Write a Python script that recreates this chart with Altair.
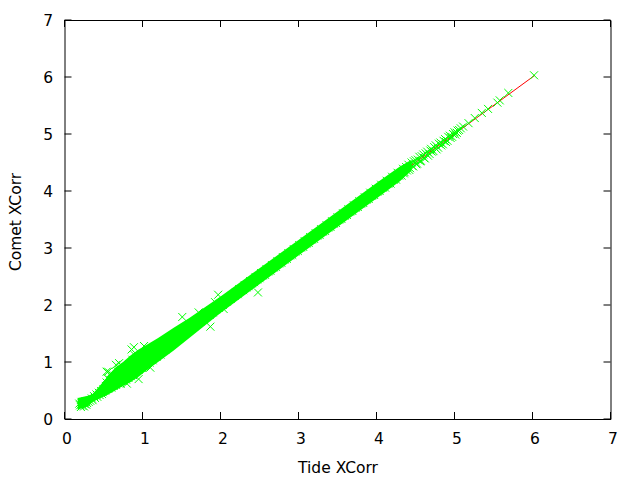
import altair as alt
import pandas as pd

# ---- data ----
tide_x = [
    0.20, 0.21, 0.22, 0.23, 0.24, 0.25, 0.26, 0.27, 0.28, 0.22, 0.19, 0.29, 0.31, 0.33,
    0.35, 0.36, 0.38, 0.39, 0.41, 0.42, 0.44, 0.45, 0.47, 0.48, 0.50, 0.49,
    0.52, 0.53, 0.54, 0.55, 0.56, 0.57, 0.58, 0.59, 0.60, 0.61, 0.62, 0.63, 0.64, 0.65,
    0.66, 0.67, 0.68, 0.69, 0.70, 0.71, 0.72, 0.73, 0.74, 0.75, 0.76, 0.77, 0.78, 0.79,
    0.80, 0.81, 0.82, 0.83, 0.84, 0.85, 0.86, 0.87, 0.88, 0.89, 0.90, 0.91, 0.92, 0.93,
    0.94, 0.95, 0.96, 0.97, 0.98, 0.99, 1.00, 0.56, 0.88,
    0.54, 0.66, 0.70, 0.86, 0.89, 1.02, 0.95, 0.80, 1.10,
    1.01, 1.02, 1.03, 1.04, 1.05, 1.06, 1.07, 1.08, 1.09, 1.10, 1.11, 1.12, 1.13, 1.14,
    1.15, 1.16, 1.18, 1.19, 1.20, 1.22, 1.23, 1.25, 1.26, 1.28, 1.29, 1.31, 1.32, 1.34,
    1.35, 1.37, 1.38, 1.40, 1.41, 1.43, 1.44, 1.46, 1.47, 1.49, 1.50,
    1.52, 1.54, 1.56, 1.58, 1.60, 1.62, 1.64, 1.66, 1.68, 1.70, 1.72, 1.74, 1.76, 1.78,
    1.80, 1.82, 1.84, 1.86, 1.88, 1.90, 1.92, 1.94, 1.96, 1.98, 2.00, 2.03, 2.05, 2.08,
    2.10, 2.13, 2.15, 2.18, 2.20,
    1.51, 1.97, 1.87, 2.48, 1.72, 1.93, 2.04,
    2.22, 2.24, 2.26, 2.29, 2.31, 2.33, 2.36, 2.38, 2.40, 2.43, 2.45, 2.47, 2.50, 2.52,
    2.54, 2.57, 2.59, 2.61, 2.64, 2.66, 2.68, 2.71, 2.73, 2.75, 2.78, 2.80, 2.82, 2.85,
    2.87, 2.89, 2.92, 2.94, 2.96, 2.99, 3.01, 3.03, 3.06, 3.08, 3.10, 3.13, 3.15, 3.17,
    3.20, 3.22, 3.24, 3.27, 3.29, 3.31, 3.34, 3.36, 3.38, 3.41, 3.43, 3.45, 3.48, 3.50,
    3.52, 3.55, 3.57, 3.59, 3.62, 3.64, 3.66, 3.69, 3.71, 3.73, 3.76, 3.78, 3.80, 3.83,
    3.85, 3.87, 3.90, 3.92, 3.94, 3.97, 3.99, 4.01, 4.04, 4.06, 4.08, 4.11, 4.13, 4.15,
    4.18, 4.20, 4.22, 4.25, 4.27, 4.29, 4.32,
    4.34, 4.36, 4.39, 4.41, 4.43, 4.46, 4.48, 4.51, 4.53, 4.56, 4.58, 4.61, 4.63, 4.66,
    4.69, 4.71, 4.74, 4.77, 4.80, 4.83, 4.86, 4.89, 4.92, 4.95, 4.98, 5.01, 5.04,
    4.35, 4.38, 4.42, 4.45, 4.47, 4.50, 4.52, 4.55, 4.57, 4.60, 4.62, 4.65, 4.68, 4.70,
    4.73, 4.76, 4.79, 4.82, 4.85, 4.88, 4.91, 4.94, 4.97, 5.00, 5.03, 5.06,
    5.08, 5.11, 5.18, 5.26, 5.35, 5.43, 5.55, 5.58, 5.69, 6.02,
]
comet_y = [
    0.24, 0.21, 0.27, 0.23, 0.29, 0.22, 0.26, 0.31, 0.25, 0.30, 0.27, 0.28, 0.30, 0.32,
    0.36, 0.33, 0.40, 0.37, 0.43, 0.39, 0.46, 0.42, 0.49, 0.44, 0.52, 0.47,
    0.50, 0.58, 0.64, 0.72, 0.53, 0.61, 0.68, 0.80, 0.55, 0.63, 0.71, 0.58, 0.76, 0.66,
    0.60, 0.72, 0.84, 0.63, 0.69, 0.78, 0.62, 0.74, 0.86, 0.67, 0.80, 0.71, 0.90, 0.69,
    0.77, 0.85, 0.72, 0.96, 0.81, 0.75, 0.89, 1.04, 0.80, 0.93, 1.12, 0.84, 0.98, 0.88,
    1.06, 0.86, 0.99, 0.92, 1.08, 0.90, 1.02, 0.83, 0.77,
    0.83, 0.95, 0.98, 1.22, 1.26, 1.28, 0.70, 0.62, 0.90,
    0.93, 1.14, 1.00, 1.08, 0.97, 1.19, 1.04, 1.12, 0.99, 1.20, 1.07, 1.16, 1.03, 1.24,
    1.11, 1.20, 1.09, 1.27, 1.15, 1.26, 1.13, 1.30, 1.21, 1.34, 1.22, 1.37, 1.27, 1.40,
    1.30, 1.43, 1.32, 1.46, 1.36, 1.48, 1.40, 1.51, 1.42, 1.54, 1.46,
    1.55, 1.51, 1.60, 1.55, 1.63, 1.59, 1.67, 1.63, 1.71, 1.67, 1.74, 1.71, 1.78, 1.75,
    1.82, 1.79, 1.86, 1.83, 1.90, 1.87, 1.94, 1.92, 1.98, 1.95, 2.02, 2.00, 2.07, 2.06,
    2.12, 2.11, 2.17, 2.16, 2.22,
    1.79, 2.18, 1.62, 2.22, 1.87, 2.05, 1.93,
    2.19, 2.28, 2.25, 2.26, 2.35, 2.31, 2.33, 2.42, 2.38, 2.40, 2.49, 2.45, 2.47, 2.56,
    2.52, 2.53, 2.63, 2.59, 2.60, 2.70, 2.66, 2.67, 2.77, 2.73, 2.74, 2.84, 2.80, 2.81,
    2.91, 2.87, 2.88, 2.98, 2.94, 2.95, 3.05, 3.01, 3.02, 3.12, 3.08, 3.09, 3.19, 3.15,
    3.16, 3.26, 3.22, 3.23, 3.33, 3.29, 3.30, 3.40, 3.36, 3.37, 3.47, 3.43, 3.44, 3.54,
    3.50, 3.51, 3.61, 3.57, 3.58, 3.68, 3.64, 3.65, 3.75, 3.71, 3.72, 3.82, 3.78, 3.79,
    3.89, 3.85, 3.86, 3.97, 3.92, 3.93, 4.04, 3.99, 4.00, 4.11, 4.06, 4.06, 4.18, 4.13,
    4.13, 4.25, 4.20, 4.20, 4.32, 4.27, 4.27,
    4.39, 4.33, 4.36, 4.46, 4.40, 4.44, 4.52, 4.47, 4.55, 4.52, 4.61, 4.58, 4.66, 4.62,
    4.71, 4.69, 4.77, 4.73, 4.83, 4.80, 4.88, 4.86, 4.95, 4.93, 5.00, 4.99, 5.06,
    4.31, 4.42, 4.37, 4.50, 4.43, 4.54, 4.48, 4.60, 4.53, 4.64, 4.57, 4.69, 4.65, 4.74,
    4.70, 4.80, 4.76, 4.85, 4.82, 4.91, 4.88, 4.97, 4.95, 5.03, 5.02, 5.07,
    5.10, 5.13, 5.19, 5.28, 5.37, 5.44, 5.55, 5.59, 5.72, 6.03,
]
# edges of the solid (fully overplotted) part of the point cloud
band_x = [0.17, 0.30, 0.36, 0.45, 0.55, 0.65, 0.75, 0.85, 0.95, 1.05, 1.20, 1.40, 1.60, 2.00, 3.00, 4.00, 4.30, 4.45]
band_lo = [0.17, 0.22, 0.30, 0.36, 0.42, 0.50, 0.58, 0.65, 0.74, 0.85, 1.00, 1.20, 1.42, 1.86, 2.87, 3.87, 4.17, 4.36]
band_hi = [0.37, 0.41, 0.44, 0.58, 0.74, 0.90, 1.00, 1.12, 1.22, 1.30, 1.42, 1.60, 1.77, 2.15, 3.14, 4.14, 4.43, 4.55]
fit_x = [0.20, 6.03]
fit_y = [0.20, 6.03]
tick_values = [0, 1, 2, 3, 4, 5, 6, 7]

pts = pd.DataFrame({"x": tide_x, "y": comet_y})
band = pd.DataFrame({"x": band_x, "lo": band_lo, "hi": band_hi})
fit = pd.DataFrame({"x": fit_x, "y": fit_y})
ticks = pd.DataFrame({"t": tick_values})

W, H = 546, 399
FONT = "DejaVu Sans"
FS = 15.5
TL = 7
GREEN = "#00ff00"

xs = alt.Scale(domain=[0, 7], nice=False, zero=False)
ys = alt.Scale(domain=[0, 7], nice=False, zero=False)

ax_x = alt.Axis(values=tick_values, ticks=False, domain=False, grid=False,
                labelFlush=False, labelOverlap=False, labelPadding=12.5, labelOffset=2,
                labelFont=FONT, labelFontSize=FS, labelColor="black", format="d",
                title="Tide XCorr", titleFont=FONT, titleFontSize=FS,
                titleFontWeight="normal", titleColor="black",
                titleBaseline="alphabetic", titleY=53.5, titleX=W / 2)
ax_y = alt.Axis(values=tick_values, ticks=False, domain=False, grid=False,
                labelFlush=False, labelOverlap=False, labelPadding=12,
                labelFont=FONT, labelFontSize=FS, labelColor="black", format="d",
                title="Comet XCorr", titleFont=FONT, titleFontSize=FS,
                titleFontWeight="normal", titleColor="black", titleAngle=270,
                titleBaseline="alphabetic", titleX=-44, titleY=201.5)

line = alt.Chart(fit).mark_line(color="#ff0000", strokeWidth=1).encode(
    x=alt.X("x:Q", scale=xs, axis=ax_x),
    y=alt.Y("y:Q", scale=ys, axis=ax_y),
)

area = alt.Chart(band).mark_area(color=GREEN, opacity=1).encode(
    x=alt.X("x:Q", scale=xs, axis=ax_x),
    y=alt.Y("lo:Q", scale=ys, axis=ax_y),
    y2="hi:Q",
)

points = alt.Chart(pts).mark_point(
    shape="M-1,-1L1,1M1,-1L-1,1", size=64, filled=False,
    stroke=GREEN, strokeWidth=1, opacity=1,
).encode(
    x=alt.X("x:Q", scale=xs, axis=ax_x),
    y=alt.Y("y:Q", scale=ys, axis=ax_y),
)

tb = alt.Chart(ticks).mark_rule(color="black", strokeWidth=1).encode(
    x=alt.X("t:Q", scale=xs, axis=ax_x), y=alt.value(H), y2=alt.value(H - TL))
tt = alt.Chart(ticks).mark_rule(color="black", strokeWidth=1).encode(
    x=alt.X("t:Q", scale=xs, axis=ax_x), y=alt.value(0), y2=alt.value(TL))
tl = alt.Chart(ticks).mark_rule(color="black", strokeWidth=1).encode(
    y=alt.Y("t:Q", scale=ys, axis=ax_y), x=alt.value(0), x2=alt.value(TL))
tr = alt.Chart(ticks).mark_rule(color="black", strokeWidth=1).encode(
    y=alt.Y("t:Q", scale=ys, axis=ax_y), x=alt.value(W), x2=alt.value(W - TL))

chart = alt.layer(line, area, points, tb, tt, tl, tr).properties(
    width=W, height=H,
    autosize=alt.AutoSizeParams(type="none"),
    padding={"left": 56.5, "top": 12, "right": 20, "bottom": 60},
    background="white",
).configure_view(stroke="black", strokeWidth=1)

chart.save("out.html", embed_options={"renderer": "svg", "actions": False})
